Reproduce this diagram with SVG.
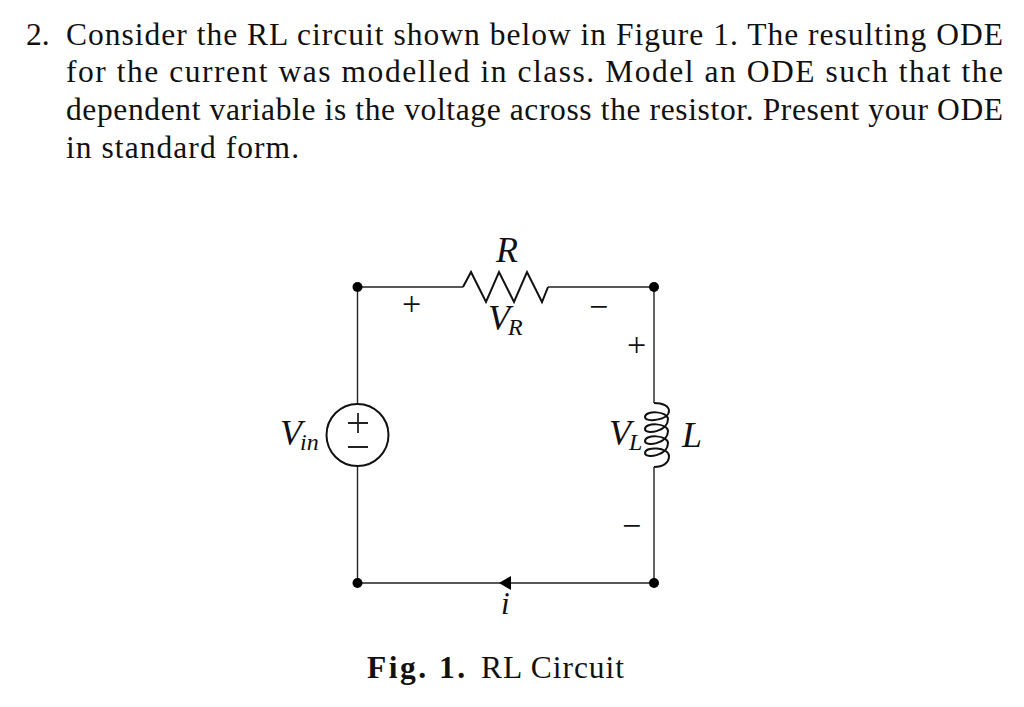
<svg xmlns="http://www.w3.org/2000/svg" width="1024" height="707" viewBox="0 0 1024 707">
<style>
text{font-family:"Liberation Serif","Times New Roman",serif;fill:#111}
.b{font-size:31.500px}
.m{font-size:36px;font-style:italic}
.s{font-size:24px;font-style:italic}
.p{font-size:34px}
.w{fill:none;stroke:#222;stroke-width:1.4}
.k{fill:none;stroke:#111;stroke-width:2}
.d{fill:#000}
</style>
<rect width="1024" height="707" fill="#fff"/>
<g id="question">
<text class="b" x="26" y="45">2.</text>
<text class="b" x="66" y="45" textLength="937" lengthAdjust="spacing">Consider the RL circuit shown below in Figure 1.  The resulting ODE</text>
<text class="b" x="66" y="82" textLength="937" lengthAdjust="spacing">for the current was modelled in class.  Model an ODE such that the</text>
<text class="b" x="66" y="120" textLength="937" lengthAdjust="spacing">dependent variable is the voltage across the resistor. Present your ODE</text>
<text class="b" x="66" y="158" textLength="233" lengthAdjust="spacing">in standard form.</text>
</g>
<g id="connectors">
<path class="w" d="M357.500 287H463M548 287H654M357.500 287V403M357.500 467V583H654M654 287V403M654 467V583"/>
</g>
<g id="resistor">
<path class="k" d="M463 287L471 272L486 302L499 272L514 302L527 272L542 302L548 287"/>
<text class="m" x="496" y="262">R</text>
<text class="m" x="488" y="330">V<tspan class="s" dy="5" dx="-2">R</tspan></text>
<text class="p" x="402" y="315">+</text>
<text class="p" x="589" y="318">−</text>
</g>
<g id="source">
<circle class="k" cx="357.500" cy="435" r="31"/>
<path d="M348 423H368M358 413V433M348 447H368" fill="none" stroke="#222" stroke-width="1.800"/>
<text class="m" x="280" y="445">V<tspan class="s" dy="5" dx="-2">in</tspan></text>
</g>
<g id="inductor">
<path class="k" d="M654 403C663 403 669 406 669 411C669 420 645 423 645 417C645 410 668 411 668 419C668 432 645 435 645 429C645 422 668 423 668 431C668 444 645 447 645 441C645 434 668 435 668 443C668 456 645 459 645 453C645 446 669 447 669 456C669 463 663 467 654 467"/>
<text class="m" x="609" y="445">V<tspan class="s" dy="5" dx="-2">L</tspan></text>
<text class="m" x="682" y="447">L</text>
<text class="p" x="627" y="356">+</text>
<text class="p" x="622" y="537">−</text>
</g>
<g id="junctions">
<circle class="d" cx="357.500" cy="287" r="5"/>
<circle class="d" cx="654" cy="287" r="5"/>
<circle class="d" cx="357.500" cy="583" r="5"/>
<circle class="d" cx="654" cy="583" r="5"/>
</g>
<g id="current">
<path class="d" d="M499 583L511 576V590Z"/>
<text class="m" x="501" y="614" style="font-size:31px">i</text>
</g>
<g id="caption">
<text x="367" y="678" style="font-size:31.500px;font-weight:bold" textLength="98" lengthAdjust="spacing">Fig. 1.</text>
<text x="481" y="678" style="font-size:31.500px" textLength="143" lengthAdjust="spacing">RL Circuit</text>
</g>
</svg>
